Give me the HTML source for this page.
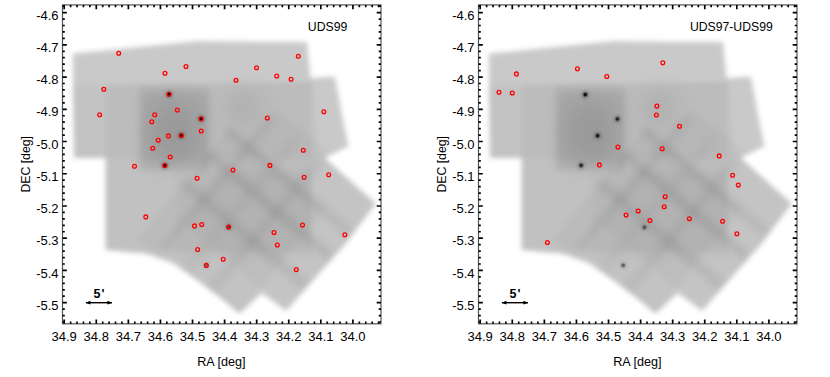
<!DOCTYPE html>
<html><head><meta charset="utf-8"><style>
html,body{margin:0;padding:0;background:#fff;width:830px;height:377px;overflow:hidden}
svg{display:block;font-family:"Liberation Sans",sans-serif}
</style></head><body>
<svg width="830" height="377" viewBox="0 0 830 377">
<defs>
<filter id="blur" x="-10%" y="-10%" width="120%" height="120%"><feGaussianBlur stdDeviation="1.5"/></filter>
<filter id="feather" x="-10%" y="-10%" width="120%" height="120%"><feGaussianBlur stdDeviation="2.8"/></filter>
<radialGradient id="src"><stop offset="0" stop-color="#000"/><stop offset="0.3" stop-color="#000" stop-opacity="0.9"/><stop offset="0.6" stop-color="#000" stop-opacity="0.3"/><stop offset="1" stop-color="#000" stop-opacity="0"/></radialGradient>
<clipPath id="sil0"><polygon points="72.5,53.5 197.0,41.0 307.0,42.0 309.0,60.0 310.5,78.0 335.0,76.5 342.0,114.0 348.5,146.3 325.0,158.0 376.0,203.5 346.0,243.5 286.0,311.0 262.0,293.5 239.5,314.0 220.5,298.0 196.5,280.0 172.5,263.0 146.0,254.0 105.3,250.0 105.3,158.0 73.7,158.0" fill="#000" /></clipPath>
<clipPath id="sil1"><polygon points="488.5,53.5 613.0,41.0 723.0,42.0 725.0,60.0 726.5,78.0 751.0,76.5 758.0,114.0 764.5,146.3 741.0,158.0 792.0,203.5 762.0,243.5 702.0,311.0 678.0,293.5 655.5,314.0 636.5,298.0 612.5,280.0 588.5,263.0 562.0,254.0 521.3,250.0 521.3,158.0 489.7,158.0" fill="#000" /></clipPath>
<filter id="blur2" x="-20%" y="-20%" width="140%" height="140%"><feGaussianBlur stdDeviation="3"/></filter>
<filter id="blur3" x="-50%" y="-50%" width="200%" height="200%"><feGaussianBlur stdDeviation="12"/></filter>
</defs>
<rect width="830" height="377" fill="#fff"/>
<g filter="url(#feather)"><g clip-path="url(#sil0)"><polygon points="72.5,53.5 197.0,41.0 307.0,42.0 309.0,60.0 310.5,78.0 335.0,76.5 342.0,114.0 348.5,146.3 325.0,158.0 376.0,203.5 346.0,243.5 286.0,311.0 262.0,293.5 239.5,314.0 220.5,298.0 196.5,280.0 172.5,263.0 146.0,254.0 105.3,250.0 105.3,158.0 73.7,158.0" fill="#c9c9c9" /><polygon points="60.0,85.0 106.0,85.0 106.0,158.0 60.0,158.0" fill="#f7f7f7" style="mix-blend-mode:multiply" /><polygon points="106.0,85.0 312.0,82.0 312.0,252.0 106.0,252.0" fill="#f5f5f5" style="mix-blend-mode:multiply" /><polygon points="106.0,85.0 312.0,82.0 320.0,158.0 106.0,158.0" fill="#f9f9f9" style="mix-blend-mode:multiply" /><polygon points="140.0,85.0 208.0,85.0 208.0,172.0 140.0,172.0" fill="#f7f7f7" style="mix-blend-mode:multiply" /><polygon points="176.0,172.0 312.0,172.0 312.0,260.0 176.0,260.0" fill="#fafafa" style="mix-blend-mode:multiply" /><polygon points="233.1,320.0 326.9,208.1 230.4,127.1 136.6,239.0" fill="#f7f7f7" style="mix-blend-mode:multiply" /><polygon points="291.0,313.2 385.8,200.1 276.3,108.2 181.4,221.3" fill="#f9f9f9" style="mix-blend-mode:multiply" /><polygon points="302.4,288.7 308.2,281.8 186.4,179.6 180.6,186.5" fill="#ebebeb" style="mix-blend-mode:multiply" filter="url(#blur2)"/><polygon points="326.8,259.6 332.6,252.7 210.8,150.5 205.0,157.4" fill="#e8e8e8" style="mix-blend-mode:multiply" filter="url(#blur2)"/><polygon points="346.7,235.8 352.5,228.9 230.7,126.7 224.9,133.6" fill="#ededed" style="mix-blend-mode:multiply" filter="url(#blur2)"/><polygon points="215.4,292.1 324.6,161.8 317.7,156.0 208.5,286.3" fill="#f2f2f2" style="mix-blend-mode:multiply" filter="url(#blur2)"/><polygon points="190.9,271.5 300.1,141.3 293.2,135.5 184.0,265.7" fill="#f7f7f7" style="mix-blend-mode:multiply" filter="url(#blur2)"/><polygon points="166.3,250.9 275.6,120.7 268.7,114.9 159.4,245.1" fill="#f2f2f2" style="mix-blend-mode:multiply" filter="url(#blur2)"/><polygon points="140.0,91.0 210.0,91.0 210.0,168.0 140.0,168.0" fill="#ebebeb" style="mix-blend-mode:multiply" filter="url(#blur2)"/><ellipse cx="174" cy="132" rx="26" ry="34" fill="#e8e8e8" style="mix-blend-mode:multiply" filter="url(#blur3)"/><ellipse cx="243" cy="108" rx="18" ry="16" fill="#eaeaea" style="mix-blend-mode:multiply" filter="url(#blur3)"/></g></g><circle cx="169.0" cy="94.3" r="6.5" fill="url(#src)" opacity="0.25"/><circle cx="169.0" cy="94.3" r="3.3" fill="url(#src)" opacity="1"/><circle cx="201.1" cy="118.8" r="6.5" fill="url(#src)" opacity="0.25"/><circle cx="201.1" cy="118.8" r="3.3" fill="url(#src)" opacity="1"/><circle cx="181.3" cy="135.5" r="6.5" fill="url(#src)" opacity="0.25"/><circle cx="181.3" cy="135.5" r="3.3" fill="url(#src)" opacity="1"/><circle cx="164.8" cy="165.5" r="6.5" fill="url(#src)" opacity="0.25"/><circle cx="164.8" cy="165.5" r="3.3" fill="url(#src)" opacity="1"/><circle cx="228.6" cy="227.1" r="6.5" fill="url(#src)" opacity="0.15"/><circle cx="228.6" cy="227.1" r="3.3" fill="url(#src)" opacity="0.6"/><circle cx="206.3" cy="265.4" r="6.5" fill="url(#src)" opacity="0.10"/><circle cx="206.3" cy="265.4" r="3.3" fill="url(#src)" opacity="0.4"/><circle cx="118.7" cy="53.2" r="1.9" fill="none" stroke="#f00" stroke-width="1.3"/><circle cx="103.8" cy="89.3" r="1.9" fill="none" stroke="#f00" stroke-width="1.3"/><circle cx="99.7" cy="114.7" r="1.9" fill="none" stroke="#f00" stroke-width="1.3"/><circle cx="154.7" cy="114.8" r="1.9" fill="none" stroke="#f00" stroke-width="1.3"/><circle cx="186.0" cy="66.5" r="1.9" fill="none" stroke="#f00" stroke-width="1.3"/><circle cx="165.0" cy="73.3" r="1.9" fill="none" stroke="#f00" stroke-width="1.3"/><circle cx="236.0" cy="80.3" r="1.9" fill="none" stroke="#f00" stroke-width="1.3"/><circle cx="256.5" cy="67.8" r="1.9" fill="none" stroke="#f00" stroke-width="1.3"/><circle cx="169.0" cy="94.3" r="1.9" fill="none" stroke="#f00" stroke-width="1.3"/><circle cx="177.3" cy="110.0" r="1.9" fill="none" stroke="#f00" stroke-width="1.3"/><circle cx="201.1" cy="118.8" r="1.9" fill="none" stroke="#f00" stroke-width="1.3"/><circle cx="298.3" cy="56.3" r="1.9" fill="none" stroke="#f00" stroke-width="1.3"/><circle cx="276.7" cy="76.0" r="1.9" fill="none" stroke="#f00" stroke-width="1.3"/><circle cx="291.1" cy="79.2" r="1.9" fill="none" stroke="#f00" stroke-width="1.3"/><circle cx="323.8" cy="111.8" r="1.9" fill="none" stroke="#f00" stroke-width="1.3"/><circle cx="267.3" cy="118.0" r="1.9" fill="none" stroke="#f00" stroke-width="1.3"/><circle cx="151.7" cy="121.7" r="1.9" fill="none" stroke="#f00" stroke-width="1.3"/><circle cx="168.4" cy="135.9" r="1.9" fill="none" stroke="#f00" stroke-width="1.3"/><circle cx="181.3" cy="135.5" r="1.9" fill="none" stroke="#f00" stroke-width="1.3"/><circle cx="158.2" cy="140.3" r="1.9" fill="none" stroke="#f00" stroke-width="1.3"/><circle cx="152.7" cy="148.2" r="1.9" fill="none" stroke="#f00" stroke-width="1.3"/><circle cx="170.2" cy="157.0" r="1.9" fill="none" stroke="#f00" stroke-width="1.3"/><circle cx="164.8" cy="165.5" r="1.9" fill="none" stroke="#f00" stroke-width="1.3"/><circle cx="134.5" cy="166.2" r="1.9" fill="none" stroke="#f00" stroke-width="1.3"/><circle cx="201.2" cy="131.0" r="1.9" fill="none" stroke="#f00" stroke-width="1.3"/><circle cx="233.0" cy="170.0" r="1.9" fill="none" stroke="#f00" stroke-width="1.3"/><circle cx="269.9" cy="165.4" r="1.9" fill="none" stroke="#f00" stroke-width="1.3"/><circle cx="197.1" cy="178.3" r="1.9" fill="none" stroke="#f00" stroke-width="1.3"/><circle cx="303.3" cy="150.3" r="1.9" fill="none" stroke="#f00" stroke-width="1.3"/><circle cx="304.1" cy="177.2" r="1.9" fill="none" stroke="#f00" stroke-width="1.3"/><circle cx="328.7" cy="174.7" r="1.9" fill="none" stroke="#f00" stroke-width="1.3"/><circle cx="145.8" cy="216.9" r="1.9" fill="none" stroke="#f00" stroke-width="1.3"/><circle cx="194.5" cy="225.9" r="1.9" fill="none" stroke="#f00" stroke-width="1.3"/><circle cx="201.7" cy="224.5" r="1.9" fill="none" stroke="#f00" stroke-width="1.3"/><circle cx="197.6" cy="249.5" r="1.9" fill="none" stroke="#f00" stroke-width="1.3"/><circle cx="228.6" cy="227.1" r="1.9" fill="none" stroke="#f00" stroke-width="1.3"/><circle cx="274.0" cy="232.5" r="1.9" fill="none" stroke="#f00" stroke-width="1.3"/><circle cx="277.3" cy="245.0" r="1.9" fill="none" stroke="#f00" stroke-width="1.3"/><circle cx="302.5" cy="225.1" r="1.9" fill="none" stroke="#f00" stroke-width="1.3"/><circle cx="223.2" cy="259.3" r="1.9" fill="none" stroke="#f00" stroke-width="1.3"/><circle cx="206.3" cy="265.4" r="1.9" fill="none" stroke="#f00" stroke-width="1.3"/><circle cx="296.3" cy="269.6" r="1.9" fill="none" stroke="#f00" stroke-width="1.3"/><circle cx="344.9" cy="234.8" r="1.9" fill="none" stroke="#f00" stroke-width="1.3"/><rect x="62.5" y="4.9" width="318.5" height="318.90000000000003" fill="none" stroke="#555" stroke-width="1.2"/><path d="M64.20 323.80v-4.3M64.20 4.90v4.3M70.62 323.80v-2.3M70.62 4.90v2.3M77.03 323.80v-2.3M77.03 4.90v2.3M83.45 323.80v-2.3M83.45 4.90v2.3M89.86 323.80v-2.3M89.86 4.90v2.3M96.28 323.80v-4.3M96.28 4.90v4.3M102.70 323.80v-2.3M102.70 4.90v2.3M109.11 323.80v-2.3M109.11 4.90v2.3M115.53 323.80v-2.3M115.53 4.90v2.3M121.94 323.80v-2.3M121.94 4.90v2.3M128.36 323.80v-4.3M128.36 4.90v4.3M134.78 323.80v-2.3M134.78 4.90v2.3M141.19 323.80v-2.3M141.19 4.90v2.3M147.61 323.80v-2.3M147.61 4.90v2.3M154.02 323.80v-2.3M154.02 4.90v2.3M160.44 323.80v-4.3M160.44 4.90v4.3M166.86 323.80v-2.3M166.86 4.90v2.3M173.27 323.80v-2.3M173.27 4.90v2.3M179.69 323.80v-2.3M179.69 4.90v2.3M186.10 323.80v-2.3M186.10 4.90v2.3M192.52 323.80v-4.3M192.52 4.90v4.3M198.94 323.80v-2.3M198.94 4.90v2.3M205.35 323.80v-2.3M205.35 4.90v2.3M211.77 323.80v-2.3M211.77 4.90v2.3M218.18 323.80v-2.3M218.18 4.90v2.3M224.60 323.80v-4.3M224.60 4.90v4.3M231.02 323.80v-2.3M231.02 4.90v2.3M237.43 323.80v-2.3M237.43 4.90v2.3M243.85 323.80v-2.3M243.85 4.90v2.3M250.26 323.80v-2.3M250.26 4.90v2.3M256.68 323.80v-4.3M256.68 4.90v4.3M263.10 323.80v-2.3M263.10 4.90v2.3M269.51 323.80v-2.3M269.51 4.90v2.3M275.93 323.80v-2.3M275.93 4.90v2.3M282.34 323.80v-2.3M282.34 4.90v2.3M288.76 323.80v-4.3M288.76 4.90v4.3M295.18 323.80v-2.3M295.18 4.90v2.3M301.59 323.80v-2.3M301.59 4.90v2.3M308.01 323.80v-2.3M308.01 4.90v2.3M314.42 323.80v-2.3M314.42 4.90v2.3M320.84 323.80v-4.3M320.84 4.90v4.3M327.26 323.80v-2.3M327.26 4.90v2.3M333.67 323.80v-2.3M333.67 4.90v2.3M340.09 323.80v-2.3M340.09 4.90v2.3M346.50 323.80v-2.3M346.50 4.90v2.3M352.92 323.80v-4.3M352.92 4.90v4.3M359.34 323.80v-2.3M359.34 4.90v2.3M365.75 323.80v-2.3M365.75 4.90v2.3M372.17 323.80v-2.3M372.17 4.90v2.3M378.58 323.80v-2.3M378.58 4.90v2.3M62.50 6.15h2.3M381.00 6.15h-2.3M62.50 12.60h4.3M381.00 12.60h-4.3M62.50 19.05h2.3M381.00 19.05h-2.3M62.50 25.49h2.3M381.00 25.49h-2.3M62.50 31.94h2.3M381.00 31.94h-2.3M62.50 38.38h2.3M381.00 38.38h-2.3M62.50 44.83h4.3M381.00 44.83h-4.3M62.50 51.28h2.3M381.00 51.28h-2.3M62.50 57.72h2.3M381.00 57.72h-2.3M62.50 64.17h2.3M381.00 64.17h-2.3M62.50 70.61h2.3M381.00 70.61h-2.3M62.50 77.06h4.3M381.00 77.06h-4.3M62.50 83.51h2.3M381.00 83.51h-2.3M62.50 89.95h2.3M381.00 89.95h-2.3M62.50 96.40h2.3M381.00 96.40h-2.3M62.50 102.84h2.3M381.00 102.84h-2.3M62.50 109.29h4.3M381.00 109.29h-4.3M62.50 115.74h2.3M381.00 115.74h-2.3M62.50 122.18h2.3M381.00 122.18h-2.3M62.50 128.63h2.3M381.00 128.63h-2.3M62.50 135.07h2.3M381.00 135.07h-2.3M62.50 141.52h4.3M381.00 141.52h-4.3M62.50 147.97h2.3M381.00 147.97h-2.3M62.50 154.41h2.3M381.00 154.41h-2.3M62.50 160.86h2.3M381.00 160.86h-2.3M62.50 167.30h2.3M381.00 167.30h-2.3M62.50 173.75h4.3M381.00 173.75h-4.3M62.50 180.20h2.3M381.00 180.20h-2.3M62.50 186.64h2.3M381.00 186.64h-2.3M62.50 193.09h2.3M381.00 193.09h-2.3M62.50 199.53h2.3M381.00 199.53h-2.3M62.50 205.98h4.3M381.00 205.98h-4.3M62.50 212.43h2.3M381.00 212.43h-2.3M62.50 218.87h2.3M381.00 218.87h-2.3M62.50 225.32h2.3M381.00 225.32h-2.3M62.50 231.76h2.3M381.00 231.76h-2.3M62.50 238.21h4.3M381.00 238.21h-4.3M62.50 244.66h2.3M381.00 244.66h-2.3M62.50 251.10h2.3M381.00 251.10h-2.3M62.50 257.55h2.3M381.00 257.55h-2.3M62.50 263.99h2.3M381.00 263.99h-2.3M62.50 270.44h4.3M381.00 270.44h-4.3M62.50 276.89h2.3M381.00 276.89h-2.3M62.50 283.33h2.3M381.00 283.33h-2.3M62.50 289.78h2.3M381.00 289.78h-2.3M62.50 296.22h2.3M381.00 296.22h-2.3M62.50 302.67h4.3M381.00 302.67h-4.3M62.50 309.12h2.3M381.00 309.12h-2.3M62.50 315.56h2.3M381.00 315.56h-2.3M62.50 322.01h2.3M381.00 322.01h-2.3" stroke="#000" stroke-width="1.7" fill="none"/><g font-size="13"><text x="58.60" y="19.80" text-anchor="end">-4.6</text><text x="58.60" y="52.03" text-anchor="end">-4.7</text><text x="58.60" y="84.26" text-anchor="end">-4.8</text><text x="58.60" y="116.49" text-anchor="end">-4.9</text><text x="58.60" y="148.72" text-anchor="end">-5.0</text><text x="58.60" y="180.95" text-anchor="end">-5.1</text><text x="58.60" y="213.18" text-anchor="end">-5.2</text><text x="58.60" y="245.41" text-anchor="end">-5.3</text><text x="58.60" y="277.64" text-anchor="end">-5.4</text><text x="58.60" y="309.87" text-anchor="end">-5.5</text><text x="64.20" y="341" text-anchor="middle">34.9</text><text x="96.28" y="341" text-anchor="middle">34.8</text><text x="128.36" y="341" text-anchor="middle">34.7</text><text x="160.44" y="341" text-anchor="middle">34.6</text><text x="192.52" y="341" text-anchor="middle">34.5</text><text x="224.60" y="341" text-anchor="middle">34.4</text><text x="256.68" y="341" text-anchor="middle">34.3</text><text x="288.76" y="341" text-anchor="middle">34.2</text><text x="320.84" y="341" text-anchor="middle">34.1</text><text x="352.92" y="341" text-anchor="middle">34.0</text></g><text x="29.8" y="164.3" font-size="13" text-anchor="middle" transform="rotate(-90 29.8 164.3)" textLength="56.5" lengthAdjust="spacingAndGlyphs">DEC [deg]</text><text x="221.4" y="366" font-size="13" text-anchor="middle" textLength="48.4" lengthAdjust="spacingAndGlyphs">RA [deg]</text><text x="93.5" y="297.9" font-size="12.5" font-weight="bold" textLength="11" lengthAdjust="spacing">5'</text><path d="M86.0 302.7H112.0" stroke="#000" stroke-width="1.4"/><path d="M85.4 302.7l5 -1.9v3.8zM112.4 302.7l-5 -1.9v3.8z" fill="#000"/>
<g filter="url(#feather)"><g clip-path="url(#sil1)"><polygon points="488.5,53.5 613.0,41.0 723.0,42.0 725.0,60.0 726.5,78.0 751.0,76.5 758.0,114.0 764.5,146.3 741.0,158.0 792.0,203.5 762.0,243.5 702.0,311.0 678.0,293.5 655.5,314.0 636.5,298.0 612.5,280.0 588.5,263.0 562.0,254.0 521.3,250.0 521.3,158.0 489.7,158.0" fill="#c9c9c9" /><polygon points="476.0,85.0 522.0,85.0 522.0,158.0 476.0,158.0" fill="#f7f7f7" style="mix-blend-mode:multiply" /><polygon points="522.0,85.0 728.0,82.0 728.0,252.0 522.0,252.0" fill="#f5f5f5" style="mix-blend-mode:multiply" /><polygon points="522.0,85.0 728.0,82.0 736.0,158.0 522.0,158.0" fill="#f9f9f9" style="mix-blend-mode:multiply" /><polygon points="556.0,85.0 624.0,85.0 624.0,172.0 556.0,172.0" fill="#f7f7f7" style="mix-blend-mode:multiply" /><polygon points="592.0,172.0 728.0,172.0 728.0,260.0 592.0,260.0" fill="#fafafa" style="mix-blend-mode:multiply" /><polygon points="649.1,320.0 742.9,208.1 646.4,127.1 552.6,239.0" fill="#f7f7f7" style="mix-blend-mode:multiply" /><polygon points="707.0,313.2 801.8,200.1 692.3,108.2 597.4,221.3" fill="#f9f9f9" style="mix-blend-mode:multiply" /><polygon points="718.4,288.7 724.2,281.8 602.4,179.6 596.6,186.5" fill="#ebebeb" style="mix-blend-mode:multiply" filter="url(#blur2)"/><polygon points="742.8,259.6 748.6,252.7 626.8,150.5 621.0,157.4" fill="#e8e8e8" style="mix-blend-mode:multiply" filter="url(#blur2)"/><polygon points="762.7,235.8 768.5,228.9 646.7,126.7 640.9,133.6" fill="#ededed" style="mix-blend-mode:multiply" filter="url(#blur2)"/><polygon points="631.4,292.1 740.6,161.8 733.7,156.0 624.5,286.3" fill="#f2f2f2" style="mix-blend-mode:multiply" filter="url(#blur2)"/><polygon points="606.9,271.5 716.1,141.3 709.2,135.5 600.0,265.7" fill="#f7f7f7" style="mix-blend-mode:multiply" filter="url(#blur2)"/><polygon points="582.3,250.9 691.6,120.7 684.7,114.9 575.4,245.1" fill="#f2f2f2" style="mix-blend-mode:multiply" filter="url(#blur2)"/><polygon points="556.0,91.0 626.0,91.0 626.0,168.0 556.0,168.0" fill="#ebebeb" style="mix-blend-mode:multiply" filter="url(#blur2)"/><ellipse cx="590.0" cy="132" rx="26" ry="34" fill="#e8e8e8" style="mix-blend-mode:multiply" filter="url(#blur3)"/><ellipse cx="659.0" cy="108" rx="18" ry="16" fill="#eaeaea" style="mix-blend-mode:multiply" filter="url(#blur3)"/></g></g><circle cx="585.3" cy="94.6" r="6.5" fill="url(#src)" opacity="0.25"/><circle cx="585.3" cy="94.6" r="3.3" fill="url(#src)" opacity="1"/><circle cx="617.4" cy="119.0" r="6.5" fill="url(#src)" opacity="0.20"/><circle cx="617.4" cy="119.0" r="3.3" fill="url(#src)" opacity="0.8"/><circle cx="597.6" cy="135.7" r="6.5" fill="url(#src)" opacity="0.23"/><circle cx="597.6" cy="135.7" r="3.3" fill="url(#src)" opacity="0.9"/><circle cx="581.1" cy="165.4" r="6.5" fill="url(#src)" opacity="0.20"/><circle cx="581.1" cy="165.4" r="3.3" fill="url(#src)" opacity="0.8"/><circle cx="644.4" cy="227.3" r="6.5" fill="url(#src)" opacity="0.12"/><circle cx="644.4" cy="227.3" r="3.3" fill="url(#src)" opacity="0.5"/><circle cx="623.2" cy="265.3" r="6.5" fill="url(#src)" opacity="0.12"/><circle cx="623.2" cy="265.3" r="3.3" fill="url(#src)" opacity="0.5"/><circle cx="499.0" cy="92.2" r="1.9" fill="none" stroke="#f00" stroke-width="1.3"/><circle cx="512.3" cy="93.0" r="1.9" fill="none" stroke="#f00" stroke-width="1.3"/><circle cx="516.4" cy="73.9" r="1.9" fill="none" stroke="#f00" stroke-width="1.3"/><circle cx="577.4" cy="68.8" r="1.9" fill="none" stroke="#f00" stroke-width="1.3"/><circle cx="606.8" cy="76.5" r="1.9" fill="none" stroke="#f00" stroke-width="1.3"/><circle cx="662.8" cy="62.7" r="1.9" fill="none" stroke="#f00" stroke-width="1.3"/><circle cx="656.9" cy="106.1" r="1.9" fill="none" stroke="#f00" stroke-width="1.3"/><circle cx="656.4" cy="115.0" r="1.9" fill="none" stroke="#f00" stroke-width="1.3"/><circle cx="679.5" cy="126.3" r="1.9" fill="none" stroke="#f00" stroke-width="1.3"/><circle cx="617.9" cy="147.1" r="1.9" fill="none" stroke="#f00" stroke-width="1.3"/><circle cx="662.2" cy="148.8" r="1.9" fill="none" stroke="#f00" stroke-width="1.3"/><circle cx="599.4" cy="164.9" r="1.9" fill="none" stroke="#f00" stroke-width="1.3"/><circle cx="719.2" cy="155.9" r="1.9" fill="none" stroke="#f00" stroke-width="1.3"/><circle cx="732.6" cy="175.2" r="1.9" fill="none" stroke="#f00" stroke-width="1.3"/><circle cx="738.3" cy="185.1" r="1.9" fill="none" stroke="#f00" stroke-width="1.3"/><circle cx="665.1" cy="196.8" r="1.9" fill="none" stroke="#f00" stroke-width="1.3"/><circle cx="664.2" cy="206.8" r="1.9" fill="none" stroke="#f00" stroke-width="1.3"/><circle cx="638.2" cy="211.0" r="1.9" fill="none" stroke="#f00" stroke-width="1.3"/><circle cx="626.1" cy="215.0" r="1.9" fill="none" stroke="#f00" stroke-width="1.3"/><circle cx="649.9" cy="220.5" r="1.9" fill="none" stroke="#f00" stroke-width="1.3"/><circle cx="689.4" cy="218.7" r="1.9" fill="none" stroke="#f00" stroke-width="1.3"/><circle cx="722.6" cy="221.3" r="1.9" fill="none" stroke="#f00" stroke-width="1.3"/><circle cx="736.9" cy="233.7" r="1.9" fill="none" stroke="#f00" stroke-width="1.3"/><circle cx="547.4" cy="242.5" r="1.9" fill="none" stroke="#f00" stroke-width="1.3"/><rect x="478.5" y="4.9" width="318.5" height="318.90000000000003" fill="none" stroke="#555" stroke-width="1.2"/><path d="M480.20 323.80v-4.3M480.20 4.90v4.3M486.62 323.80v-2.3M486.62 4.90v2.3M493.03 323.80v-2.3M493.03 4.90v2.3M499.45 323.80v-2.3M499.45 4.90v2.3M505.86 323.80v-2.3M505.86 4.90v2.3M512.28 323.80v-4.3M512.28 4.90v4.3M518.70 323.80v-2.3M518.70 4.90v2.3M525.11 323.80v-2.3M525.11 4.90v2.3M531.53 323.80v-2.3M531.53 4.90v2.3M537.94 323.80v-2.3M537.94 4.90v2.3M544.36 323.80v-4.3M544.36 4.90v4.3M550.78 323.80v-2.3M550.78 4.90v2.3M557.19 323.80v-2.3M557.19 4.90v2.3M563.61 323.80v-2.3M563.61 4.90v2.3M570.02 323.80v-2.3M570.02 4.90v2.3M576.44 323.80v-4.3M576.44 4.90v4.3M582.86 323.80v-2.3M582.86 4.90v2.3M589.27 323.80v-2.3M589.27 4.90v2.3M595.69 323.80v-2.3M595.69 4.90v2.3M602.10 323.80v-2.3M602.10 4.90v2.3M608.52 323.80v-4.3M608.52 4.90v4.3M614.94 323.80v-2.3M614.94 4.90v2.3M621.35 323.80v-2.3M621.35 4.90v2.3M627.77 323.80v-2.3M627.77 4.90v2.3M634.18 323.80v-2.3M634.18 4.90v2.3M640.60 323.80v-4.3M640.60 4.90v4.3M647.02 323.80v-2.3M647.02 4.90v2.3M653.43 323.80v-2.3M653.43 4.90v2.3M659.85 323.80v-2.3M659.85 4.90v2.3M666.26 323.80v-2.3M666.26 4.90v2.3M672.68 323.80v-4.3M672.68 4.90v4.3M679.10 323.80v-2.3M679.10 4.90v2.3M685.51 323.80v-2.3M685.51 4.90v2.3M691.93 323.80v-2.3M691.93 4.90v2.3M698.34 323.80v-2.3M698.34 4.90v2.3M704.76 323.80v-4.3M704.76 4.90v4.3M711.18 323.80v-2.3M711.18 4.90v2.3M717.59 323.80v-2.3M717.59 4.90v2.3M724.01 323.80v-2.3M724.01 4.90v2.3M730.42 323.80v-2.3M730.42 4.90v2.3M736.84 323.80v-4.3M736.84 4.90v4.3M743.26 323.80v-2.3M743.26 4.90v2.3M749.67 323.80v-2.3M749.67 4.90v2.3M756.09 323.80v-2.3M756.09 4.90v2.3M762.50 323.80v-2.3M762.50 4.90v2.3M768.92 323.80v-4.3M768.92 4.90v4.3M775.34 323.80v-2.3M775.34 4.90v2.3M781.75 323.80v-2.3M781.75 4.90v2.3M788.17 323.80v-2.3M788.17 4.90v2.3M794.58 323.80v-2.3M794.58 4.90v2.3M478.50 6.15h2.3M797.00 6.15h-2.3M478.50 12.60h4.3M797.00 12.60h-4.3M478.50 19.05h2.3M797.00 19.05h-2.3M478.50 25.49h2.3M797.00 25.49h-2.3M478.50 31.94h2.3M797.00 31.94h-2.3M478.50 38.38h2.3M797.00 38.38h-2.3M478.50 44.83h4.3M797.00 44.83h-4.3M478.50 51.28h2.3M797.00 51.28h-2.3M478.50 57.72h2.3M797.00 57.72h-2.3M478.50 64.17h2.3M797.00 64.17h-2.3M478.50 70.61h2.3M797.00 70.61h-2.3M478.50 77.06h4.3M797.00 77.06h-4.3M478.50 83.51h2.3M797.00 83.51h-2.3M478.50 89.95h2.3M797.00 89.95h-2.3M478.50 96.40h2.3M797.00 96.40h-2.3M478.50 102.84h2.3M797.00 102.84h-2.3M478.50 109.29h4.3M797.00 109.29h-4.3M478.50 115.74h2.3M797.00 115.74h-2.3M478.50 122.18h2.3M797.00 122.18h-2.3M478.50 128.63h2.3M797.00 128.63h-2.3M478.50 135.07h2.3M797.00 135.07h-2.3M478.50 141.52h4.3M797.00 141.52h-4.3M478.50 147.97h2.3M797.00 147.97h-2.3M478.50 154.41h2.3M797.00 154.41h-2.3M478.50 160.86h2.3M797.00 160.86h-2.3M478.50 167.30h2.3M797.00 167.30h-2.3M478.50 173.75h4.3M797.00 173.75h-4.3M478.50 180.20h2.3M797.00 180.20h-2.3M478.50 186.64h2.3M797.00 186.64h-2.3M478.50 193.09h2.3M797.00 193.09h-2.3M478.50 199.53h2.3M797.00 199.53h-2.3M478.50 205.98h4.3M797.00 205.98h-4.3M478.50 212.43h2.3M797.00 212.43h-2.3M478.50 218.87h2.3M797.00 218.87h-2.3M478.50 225.32h2.3M797.00 225.32h-2.3M478.50 231.76h2.3M797.00 231.76h-2.3M478.50 238.21h4.3M797.00 238.21h-4.3M478.50 244.66h2.3M797.00 244.66h-2.3M478.50 251.10h2.3M797.00 251.10h-2.3M478.50 257.55h2.3M797.00 257.55h-2.3M478.50 263.99h2.3M797.00 263.99h-2.3M478.50 270.44h4.3M797.00 270.44h-4.3M478.50 276.89h2.3M797.00 276.89h-2.3M478.50 283.33h2.3M797.00 283.33h-2.3M478.50 289.78h2.3M797.00 289.78h-2.3M478.50 296.22h2.3M797.00 296.22h-2.3M478.50 302.67h4.3M797.00 302.67h-4.3M478.50 309.12h2.3M797.00 309.12h-2.3M478.50 315.56h2.3M797.00 315.56h-2.3M478.50 322.01h2.3M797.00 322.01h-2.3" stroke="#000" stroke-width="1.7" fill="none"/><g font-size="13"><text x="474.60" y="19.80" text-anchor="end">-4.6</text><text x="474.60" y="52.03" text-anchor="end">-4.7</text><text x="474.60" y="84.26" text-anchor="end">-4.8</text><text x="474.60" y="116.49" text-anchor="end">-4.9</text><text x="474.60" y="148.72" text-anchor="end">-5.0</text><text x="474.60" y="180.95" text-anchor="end">-5.1</text><text x="474.60" y="213.18" text-anchor="end">-5.2</text><text x="474.60" y="245.41" text-anchor="end">-5.3</text><text x="474.60" y="277.64" text-anchor="end">-5.4</text><text x="474.60" y="309.87" text-anchor="end">-5.5</text><text x="480.20" y="341" text-anchor="middle">34.9</text><text x="512.28" y="341" text-anchor="middle">34.8</text><text x="544.36" y="341" text-anchor="middle">34.7</text><text x="576.44" y="341" text-anchor="middle">34.6</text><text x="608.52" y="341" text-anchor="middle">34.5</text><text x="640.60" y="341" text-anchor="middle">34.4</text><text x="672.68" y="341" text-anchor="middle">34.3</text><text x="704.76" y="341" text-anchor="middle">34.2</text><text x="736.84" y="341" text-anchor="middle">34.1</text><text x="768.92" y="341" text-anchor="middle">34.0</text></g><text x="445.8" y="164.3" font-size="13" text-anchor="middle" transform="rotate(-90 445.8 164.3)" textLength="56.5" lengthAdjust="spacingAndGlyphs">DEC [deg]</text><text x="637.4" y="366" font-size="13" text-anchor="middle" textLength="48.4" lengthAdjust="spacingAndGlyphs">RA [deg]</text><text x="509.5" y="297.9" font-size="12.5" font-weight="bold" textLength="11" lengthAdjust="spacing">5'</text><path d="M502.0 302.7H528.0" stroke="#000" stroke-width="1.4"/><path d="M501.4 302.7l5 -1.9v3.8zM528.4 302.7l-5 -1.9v3.8z" fill="#000"/>
<text x="307.8" y="30.7" font-size="12.3" textLength="39.5" lengthAdjust="spacingAndGlyphs">UDS99</text>
<text x="689.9" y="30.9" font-size="12.3" textLength="82.9" lengthAdjust="spacingAndGlyphs">UDS97-UDS99</text>
</svg>
</body></html>
